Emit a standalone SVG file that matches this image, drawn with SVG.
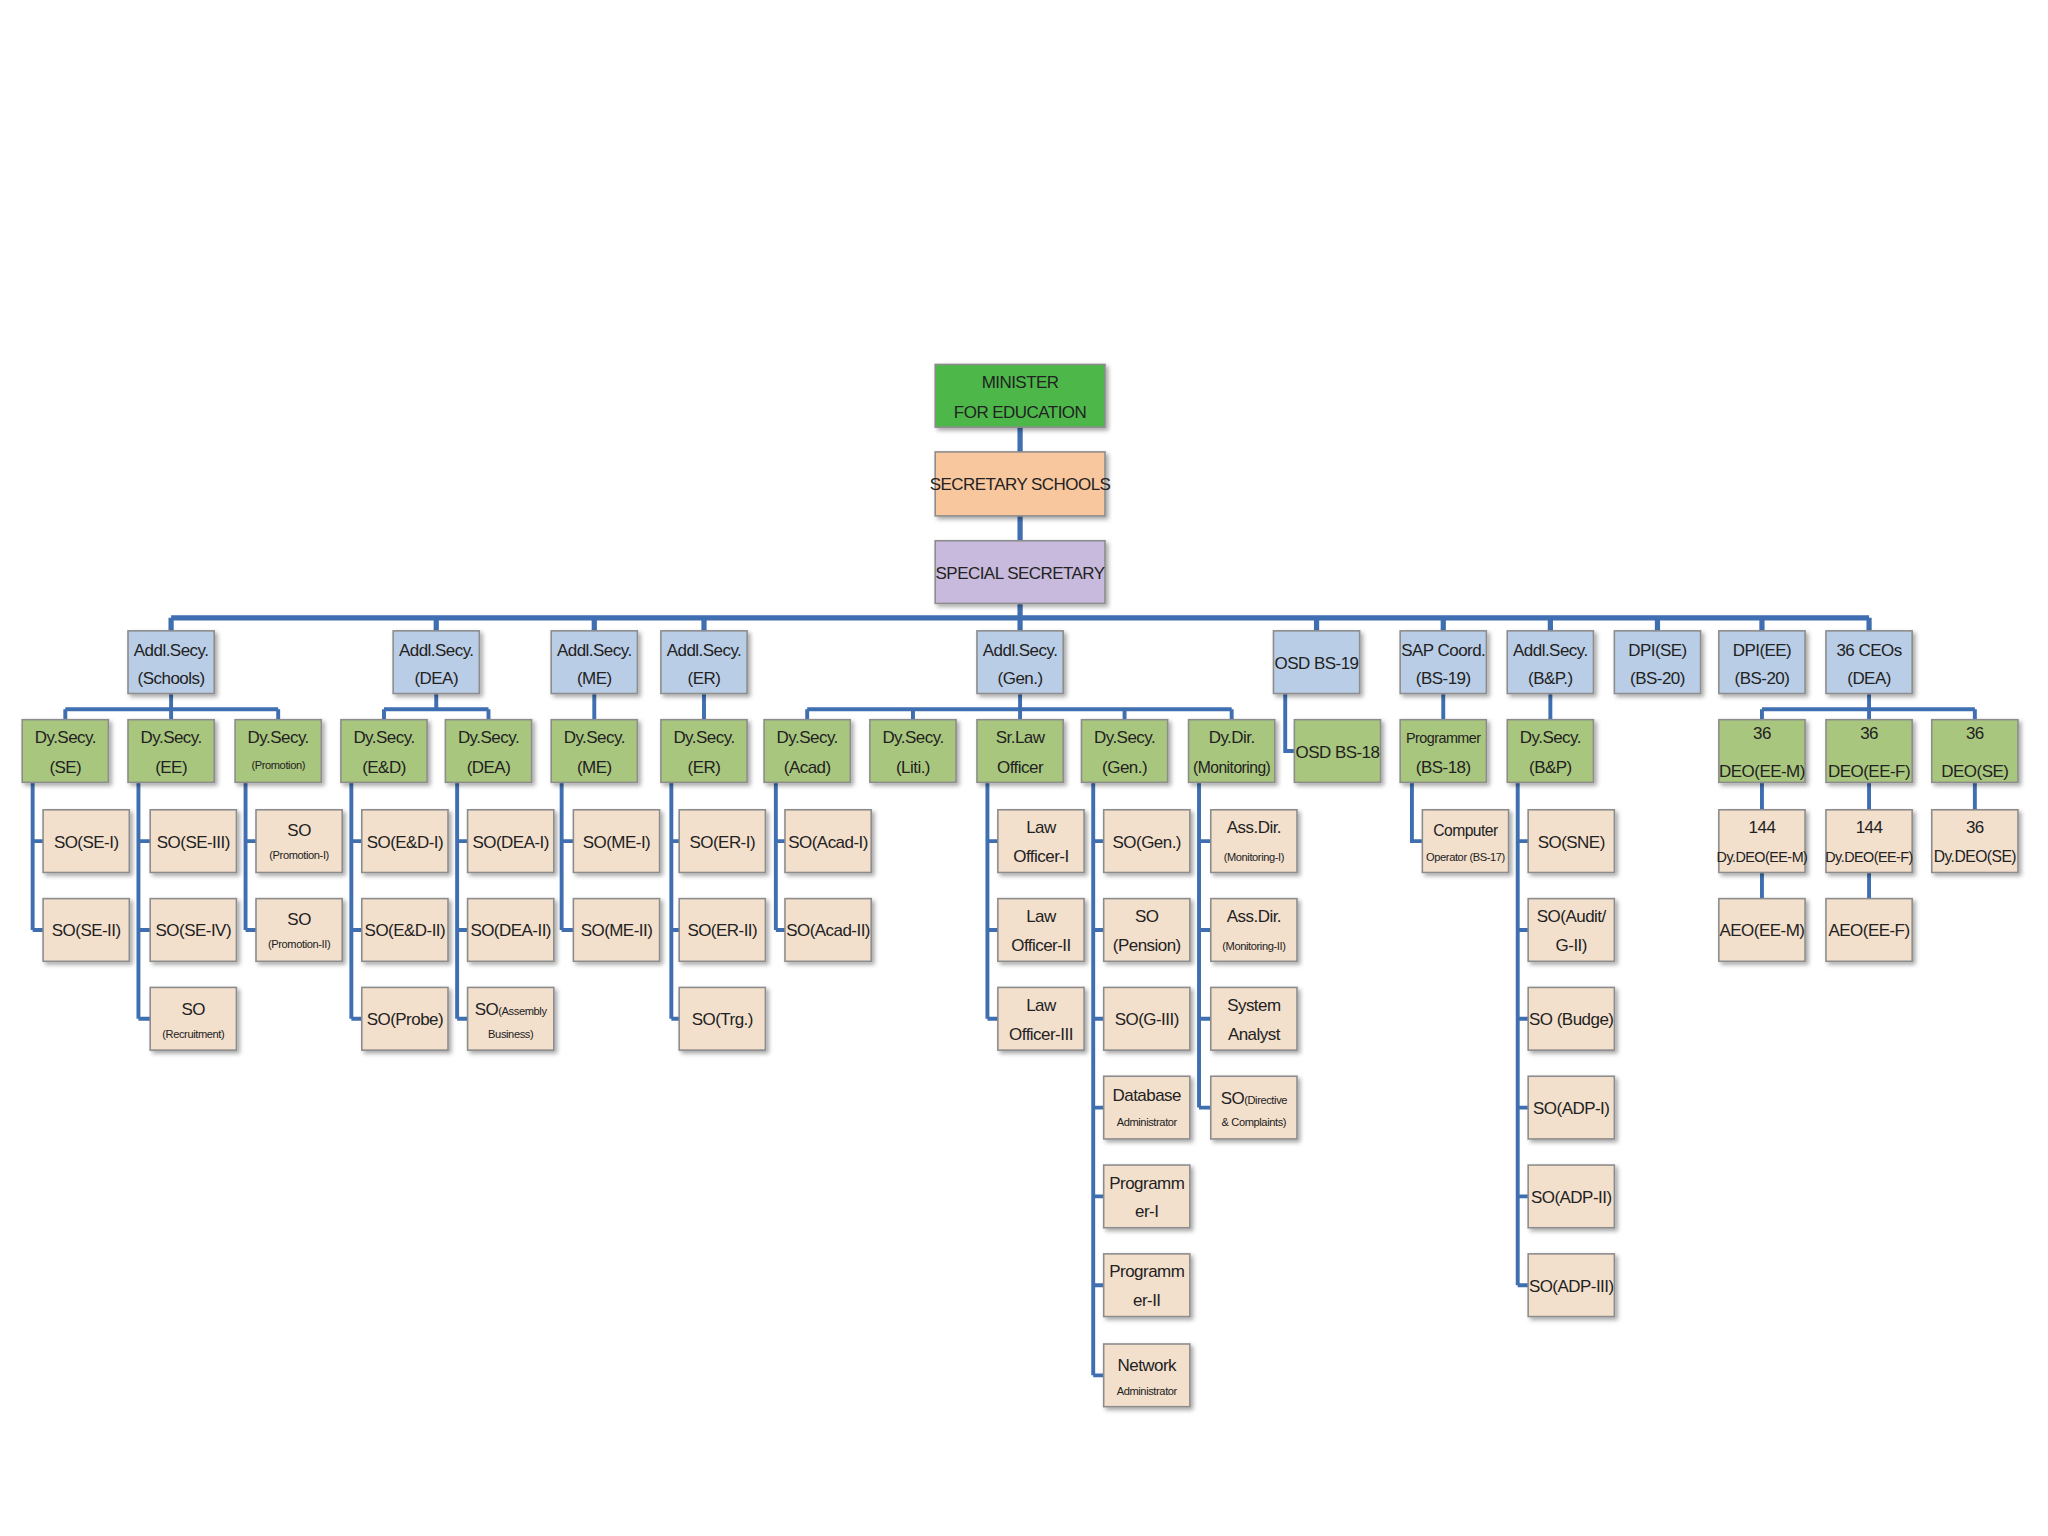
<svg xmlns="http://www.w3.org/2000/svg" width="2048" height="1536" viewBox="0 0 2048 1536">
<defs>
<filter id="sh" x="-10%" y="-10%" width="130%" height="130%"><feDropShadow dx="2" dy="2" stdDeviation="1.5" flood-color="#000" flood-opacity="0.35"/></filter>
<style>
rect{stroke:#8c8c8c;stroke-width:1.2;filter:url(#sh)}
.mn{fill:#4DB848}.sc{fill:#F9C79E}.sp{fill:#C8BADC}
.a{fill:#B9CDE6}.d{fill:#A9C67E}.s{fill:#F2DFCC}
text{font-family:"Liberation Sans",Arial,sans-serif;font-size:13px;fill:#222;text-anchor:middle;letter-spacing:-0.4px}
.t{font-size:8.5px;letter-spacing:-0.3px}
.c path,.c line{stroke:#3F6FB1;stroke-width:3;fill:none}
</style>
</defs>
<rect x="0" y="0" width="2048" height="1536" fill="#fff" style="stroke:none;filter:none"/>
<g transform="scale(1.30612)">
<g class="c" id="connectors">
<path d="M781 327V473M131 473H1431M131 473V483M334 473V483M455 473V483M539 473V483M781 473V483M1008 473V483M1105 473V483M1187 473V483M1269 473V483M1349 473V483M1431 473V483" style="stroke-width:4"/>
<path d="M131 531V543M50 543H213M50 543V551M131 543V551M213 543V551"/>
<path d="M334 531V543M294 543H374M294 543V551M374 543V551"/>
<path d="M455 531V551M539 531V551M1105 531V551M1187 531V551"/>
<path d="M781 531V543M618 543H943M618 543V551M699 543V551M781 543V551M861 543V551M943 543V551"/>
<path d="M984 531V575H991"/>
<path d="M1431 531V543M1349 543H1512M1349 543V551M1431 543V551M1512 543V551"/>
<path d="M1349 599V620M1349 668V688M1431 599V620M1431 668V688M1512 599V620"/>
<path d="M25 599V712M25 644H33M25 712H33"/>
<path d="M106 599V780M106 644H115M106 712H115M106 780H115"/>
<path d="M188 599V712M188 644H196M188 712H196"/>
<path d="M269 599V780M269 644H277M269 712H277M269 780H277"/>
<path d="M350 599V780M350 644H358M350 712H358M350 780H358"/>
<path d="M430 599V712M430 644H439M430 712H439"/>
<path d="M514 599V780M514 644H520M514 712H520M514 780H520"/>
<path d="M594 599V712M594 644H601M594 712H601"/>
<path d="M756 599V780M756 644H764M756 712H764M756 780H764"/>
<path d="M837 599V1053M837 644H845M837 712H845M837 780H845M837 848H845M837 916H845M837 984H845M837 1053H845"/>
<path d="M918 599V848M918 644H927M918 712H927M918 780H927M918 848H927"/>
<path d="M1081 599V644H1089"/>
<path d="M1162 599V984M1162 644H1170M1162 712H1170M1162 780H1170M1162 848H1170M1162 916H1170M1162 984H1170"/>
</g>
<g id="minister"><rect class="mn" x="716" y="279" width="130" height="48"/><text x="781" y="297">MINISTER</text><text x="781" y="320">FOR EDUCATION</text></g>
<g id="secretary"><rect class="sc" x="716" y="346" width="130" height="49"/><text x="781" y="375">SECRETARY SCHOOLS</text></g>
<g id="special"><rect class="sp" x="716" y="414" width="130" height="48"/><text x="781" y="443">SPECIAL SECRETARY</text></g>

<g id="as-schools"><rect class="a" x="98" y="483" width="66" height="48"/><text x="131" y="502">Addl.Secy.</text><text x="131" y="524">(Schools)</text></g>
<g id="as-dea"><rect class="a" x="301" y="483" width="66" height="48"/><text x="334" y="502">Addl.Secy.</text><text x="334" y="524">(DEA)</text></g>
<g id="as-me"><rect class="a" x="422" y="483" width="66" height="48"/><text x="455" y="502">Addl.Secy.</text><text x="455" y="524">(ME)</text></g>
<g id="as-er"><rect class="a" x="506" y="483" width="66" height="48"/><text x="539" y="502">Addl.Secy.</text><text x="539" y="524">(ER)</text></g>
<g id="as-gen"><rect class="a" x="748" y="483" width="66" height="48"/><text x="781" y="502">Addl.Secy.</text><text x="781" y="524">(Gen.)</text></g>
<g id="osd19"><rect class="a" x="975" y="483" width="66" height="48"/><text x="1008" y="512">OSD BS-19</text></g>
<g id="sap"><rect class="a" x="1072" y="483" width="66" height="48"/><text x="1105" y="502">SAP Coord.</text><text x="1105" y="524">(BS-19)</text></g>
<g id="as-bp"><rect class="a" x="1154" y="483" width="66" height="48"/><text x="1187" y="502">Addl.Secy.</text><text x="1187" y="524">(B&amp;P.)</text></g>
<g id="dpi-se"><rect class="a" x="1236" y="483" width="66" height="48"/><text x="1269" y="502">DPI(SE)</text><text x="1269" y="524">(BS-20)</text></g>
<g id="dpi-ee"><rect class="a" x="1316" y="483" width="66" height="48"/><text x="1349" y="502">DPI(EE)</text><text x="1349" y="524">(BS-20)</text></g>
<g id="ceos"><rect class="a" x="1398" y="483" width="66" height="48"/><text x="1431" y="502">36 CEOs</text><text x="1431" y="524">(DEA)</text></g>

<g id="ds-se"><rect class="d" x="17" y="551" width="66" height="48"/><text x="50" y="569">Dy.Secy.</text><text x="50" y="592">(SE)</text></g>
<g id="ds-ee"><rect class="d" x="98" y="551" width="66" height="48"/><text x="131" y="569">Dy.Secy.</text><text x="131" y="592">(EE)</text></g>
<g id="ds-prom"><rect class="d" x="180" y="551" width="66" height="48"/><text x="213" y="569">Dy.Secy.</text><text class="t" x="213" y="589">(Promotion)</text></g>
<g id="ds-ed"><rect class="d" x="261" y="551" width="66" height="48"/><text x="294" y="569">Dy.Secy.</text><text x="294" y="592">(E&amp;D)</text></g>
<g id="ds-dea"><rect class="d" x="341" y="551" width="66" height="48"/><text x="374" y="569">Dy.Secy.</text><text x="374" y="592">(DEA)</text></g>
<g id="ds-me"><rect class="d" x="422" y="551" width="66" height="48"/><text x="455" y="569">Dy.Secy.</text><text x="455" y="592">(ME)</text></g>
<g id="ds-er"><rect class="d" x="506" y="551" width="66" height="48"/><text x="539" y="569">Dy.Secy.</text><text x="539" y="592">(ER)</text></g>
<g id="ds-acad"><rect class="d" x="585" y="551" width="66" height="48"/><text x="618" y="569">Dy.Secy.</text><text x="618" y="592">(Acad)</text></g>
<g id="ds-liti"><rect class="d" x="666" y="551" width="66" height="48"/><text x="699" y="569">Dy.Secy.</text><text x="699" y="592">(Liti.)</text></g>
<g id="srlaw"><rect class="d" x="748" y="551" width="66" height="48"/><text x="781" y="569">Sr.Law</text><text x="781" y="592">Officer</text></g>
<g id="ds-gen"><rect class="d" x="828" y="551" width="66" height="48"/><text x="861" y="569">Dy.Secy.</text><text x="861" y="592">(Gen.)</text></g>
<g id="dd-mon"><rect class="d" x="910" y="551" width="66" height="48"/><text x="943" y="569">Dy.Dir.</text><text x="943" y="592" style="font-size:12px">(Monitoring)</text></g>
<g id="osd18"><rect class="d" x="991" y="551" width="66" height="48"/><text x="1024" y="580">OSD BS-18</text></g>
<g id="prog18"><rect class="d" x="1072" y="551" width="66" height="48"/><text x="1105" y="569" style="font-size:11px">Programmer</text><text x="1105" y="592">(BS-18)</text></g>
<g id="ds-bp"><rect class="d" x="1154" y="551" width="66" height="48"/><text x="1187" y="569">Dy.Secy.</text><text x="1187" y="592">(B&amp;P)</text></g>
<g id="deo-eem"><rect class="d" x="1316" y="551" width="66" height="48"/><text x="1349" y="566">36</text><text x="1349" y="595">DEO(EE-M)</text></g>
<g id="deo-eef"><rect class="d" x="1398" y="551" width="66" height="48"/><text x="1431" y="566">36</text><text x="1431" y="595">DEO(EE-F)</text></g>
<g id="deo-se"><rect class="d" x="1479" y="551" width="66" height="48"/><text x="1512" y="566">36</text><text x="1512" y="595">DEO(SE)</text></g>

<g id="so-se1"><rect class="s" x="33" y="620" width="66" height="48"/><text x="66" y="649">SO(SE-I)</text></g>
<g id="so-se2"><rect class="s" x="33" y="688" width="66" height="48"/><text x="66" y="717">SO(SE-II)</text></g>
<g id="so-se3"><rect class="s" x="115" y="620" width="66" height="48"/><text x="148" y="649">SO(SE-III)</text></g>
<g id="so-se4"><rect class="s" x="115" y="688" width="66" height="48"/><text x="148" y="717">SO(SE-IV)</text></g>
<g id="so-rec"><rect class="s" x="115" y="756" width="66" height="48"/><text x="148" y="777">SO</text><text class="t" x="148" y="795">(Recruitment)</text></g>
<g id="so-prom1"><rect class="s" x="196" y="620" width="66" height="48"/><text x="229" y="640">SO</text><text class="t" x="229" y="658">(Promotion-I)</text></g>
<g id="so-prom2"><rect class="s" x="196" y="688" width="66" height="48"/><text x="229" y="708">SO</text><text class="t" x="229" y="726">(Promotion-II)</text></g>
<g id="so-ed1"><rect class="s" x="277" y="620" width="66" height="48"/><text x="310" y="649">SO(E&amp;D-I)</text></g>
<g id="so-ed2"><rect class="s" x="277" y="688" width="66" height="48"/><text x="310" y="717">SO(E&amp;D-II)</text></g>
<g id="so-probe"><rect class="s" x="277" y="756" width="66" height="48"/><text x="310" y="785">SO(Probe)</text></g>
<g id="so-dea1"><rect class="s" x="358" y="620" width="66" height="48"/><text x="391" y="649">SO(DEA-I)</text></g>
<g id="so-dea2"><rect class="s" x="358" y="688" width="66" height="48"/><text x="391" y="717">SO(DEA-II)</text></g>
<g id="so-ab"><rect class="s" x="358" y="756" width="66" height="48"/><text x="391" y="777">SO<tspan class="t">(Assembly</tspan></text><text class="t" x="391" y="795">Business)</text></g>
<g id="so-me1"><rect class="s" x="439" y="620" width="66" height="48"/><text x="472" y="649">SO(ME-I)</text></g>
<g id="so-me2"><rect class="s" x="439" y="688" width="66" height="48"/><text x="472" y="717">SO(ME-II)</text></g>
<g id="so-er1"><rect class="s" x="520" y="620" width="66" height="48"/><text x="553" y="649">SO(ER-I)</text></g>
<g id="so-er2"><rect class="s" x="520" y="688" width="66" height="48"/><text x="553" y="717">SO(ER-II)</text></g>
<g id="so-trg"><rect class="s" x="520" y="756" width="66" height="48"/><text x="553" y="785">SO(Trg.)</text></g>
<g id="so-acad1"><rect class="s" x="601" y="620" width="66" height="48"/><text x="634" y="649">SO(Acad-I)</text></g>
<g id="so-acad2"><rect class="s" x="601" y="688" width="66" height="48"/><text x="634" y="717">SO(Acad-II)</text></g>
<g id="law1"><rect class="s" x="764" y="620" width="66" height="48"/><text x="797" y="638">Law</text><text x="797" y="660">Officer-I</text></g>
<g id="law2"><rect class="s" x="764" y="688" width="66" height="48"/><text x="797" y="706">Law</text><text x="797" y="728">Officer-II</text></g>
<g id="law3"><rect class="s" x="764" y="756" width="66" height="48"/><text x="797" y="774">Law</text><text x="797" y="796">Officer-III</text></g>
<g id="so-gen"><rect class="s" x="845" y="620" width="66" height="48"/><text x="878" y="649">SO(Gen.)</text></g>
<g id="so-pen"><rect class="s" x="845" y="688" width="66" height="48"/><text x="878" y="706">SO</text><text x="878" y="728">(Pension)</text></g>
<g id="so-g3"><rect class="s" x="845" y="756" width="66" height="48"/><text x="878" y="785">SO(G-III)</text></g>
<g id="dba"><rect class="s" x="845" y="824" width="66" height="48"/><text x="878" y="843">Database</text><text class="t" x="878" y="862">Administrator</text></g>
<g id="prog1"><rect class="s" x="845" y="892" width="66" height="48"/><text x="878" y="910">Programm</text><text x="878" y="932">er-I</text></g>
<g id="prog2"><rect class="s" x="845" y="960" width="66" height="48"/><text x="878" y="978">Programm</text><text x="878" y="1000">er-II</text></g>
<g id="netadm"><rect class="s" x="845" y="1029" width="66" height="48"/><text x="878" y="1050">Network</text><text class="t" x="878" y="1068">Administrator</text></g>
<g id="ad1"><rect class="s" x="927" y="620" width="66" height="48"/><text x="960" y="638">Ass.Dir.</text><text class="t" x="960" y="659">(Monitoring-I)</text></g>
<g id="ad2"><rect class="s" x="927" y="688" width="66" height="48"/><text x="960" y="706">Ass.Dir.</text><text class="t" x="960" y="727">(Monitoring-II)</text></g>
<g id="sysan"><rect class="s" x="927" y="756" width="66" height="48"/><text x="960" y="774">System</text><text x="960" y="796">Analyst</text></g>
<g id="so-dir"><rect class="s" x="927" y="824" width="66" height="48"/><text x="960" y="845">SO<tspan class="t">(Directive</tspan></text><text class="t" x="960" y="862">&amp; Complaints)</text></g>
<g id="compop"><rect class="s" x="1089" y="620" width="66" height="48"/><text x="1122" y="640" style="font-size:12px">Computer</text><text class="t" x="1122" y="659">Operator (BS-17)</text></g>
<g id="so-sne"><rect class="s" x="1170" y="620" width="66" height="48"/><text x="1203" y="649">SO(SNE)</text></g>
<g id="so-audit"><rect class="s" x="1170" y="688" width="66" height="48"/><text x="1203" y="706">SO(Audit/</text><text x="1203" y="728">G-II)</text></g>
<g id="so-budge"><rect class="s" x="1170" y="756" width="66" height="48"/><text x="1203" y="785">SO (Budge)</text></g>
<g id="so-adp1"><rect class="s" x="1170" y="824" width="66" height="48"/><text x="1203" y="853">SO(ADP-I)</text></g>
<g id="so-adp2"><rect class="s" x="1170" y="892" width="66" height="48"/><text x="1203" y="921">SO(ADP-II)</text></g>
<g id="so-adp3"><rect class="s" x="1170" y="960" width="66" height="48"/><text x="1203" y="989">SO(ADP-III)</text></g>
<g id="dydeo-m"><rect class="s" x="1316" y="620" width="66" height="48"/><text x="1349" y="638">144</text><text x="1349" y="660" style="font-size:11px">Dy.DEO(EE-M)</text></g>
<g id="aeo-m"><rect class="s" x="1316" y="688" width="66" height="48"/><text x="1349" y="717">AEO(EE-M)</text></g>
<g id="dydeo-f"><rect class="s" x="1398" y="620" width="66" height="48"/><text x="1431" y="638">144</text><text x="1431" y="660" style="font-size:11px">Dy.DEO(EE-F)</text></g>
<g id="aeo-f"><rect class="s" x="1398" y="688" width="66" height="48"/><text x="1431" y="717">AEO(EE-F)</text></g>
<g id="dydeo-se"><rect class="s" x="1479" y="620" width="66" height="48"/><text x="1512" y="638">36</text><text x="1512" y="660" style="font-size:12px">Dy.DEO(SE)</text></g>
</g>
</svg>
